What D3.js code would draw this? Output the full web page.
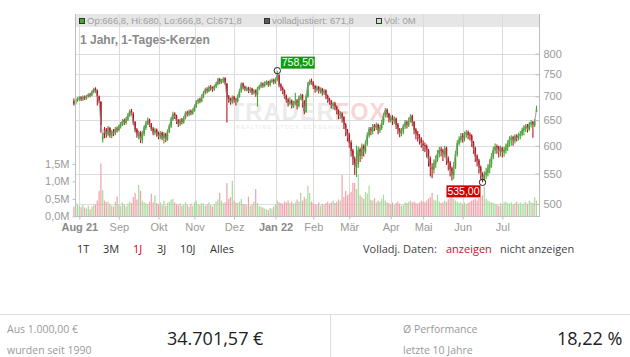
<!DOCTYPE html>
<html><head><meta charset="utf-8">
<script src="https://cdn.jsdelivr.net/npm/d3@7/dist/d3.min.js"></script>
<style>
body{margin:0;background:#fff;}
svg{display:block;}
</style></head><body>
<svg id="c" width="630" height="357"></svg>
<script>
// ---- data ----
const monthIdx = [3,25,47,67,89,112,133,153,176,194,216,238];
const monthLabels = ["Aug 21","Sep","Okt","Nov","Dez","Jan 22","Feb","Mär","Apr","Mai","Jun","Jul"];
const boldLabels = ["Aug 21","Jan 22"];
const priceTicks = [500,550,600,650,700,750,800];
const volTicks = [0,0.5,1.0,1.5];
const volTickLabels = ["0,0M","0,5M","1,0M","1,5M"];

const open = [
690,684,692,
694,698,693,699,696,700,705,702,709,717,713,700,688,612,632,630,621,634,619,628,623,633,
630,637,641,650,644,651,659,669,663,646,631,618,626,610,622,634,643,651,641,633,624,631,
623,617,625,614,622,611,627,637,651,663,659,649,641,651,645,654,666,661,669,663,
669,677,687,693,689,699,707,716,711,721,719,715,721,727,739,731,734,741,728,699,693,687,
699,693,689,699,711,729,721,715,719,711,717,707,713,703,717,721,729,723,729,733,725,733,737,
731,737,748,726,719,713,701,693,685,691,679,683,691,679,697,703,689,667,699,727,735,
731,723,714,721,711,717,707,713,701,693,689,679,685,677,669,659,663,656,641,629,
621,606,591,576,560,567,593,581,599,589,604,619,633,627,639,634,641,629,634,644,659,671,663,
649,656,647,653,641,631,623,627,637,646,639,649,659,646,631,623,617,613,
604,601,599,591,576,561,557,567,574,584,593,591,584,596,576,569,559,547,561,584,604,611,
619,613,621,626,621,619,606,596,581,573,561,549,541,547,551,559,567,579,591,599,597,589,
596,587,591,597,604,611,616,609,619,614,619,621,629,634,639,631,641,646,639,666.8];
const high = [
695,694,698,
700,700,702,702,703,707,708,713,719,720,715,702,690,624,636,634,638,636,630,632,636,637,
641,646,652,653,656,664,672,673,666,648,634,629,628,628,639,648,655,653,644,636,634,633,
627,628,627,626,624,631,642,656,667,666,661,652,653,654,658,668,669,672,672,674,
682,692,696,697,704,712,719,720,724,725,722,726,732,742,741,739,743,743,730,703,697,702,
701,697,704,716,731,731,724,722,721,720,719,716,715,721,726,732,731,734,736,735,738,740,740,
742,758.5,750,729,722,715,704,697,698,693,690,708,694,702,706,705,692,704,732,738,740,
734,726,724,723,720,719,716,715,704,697,692,688,688,680,672,668,666,658,644,632,
624,610,594,580,600,598,596,604,602,610,625,636,636,642,642,645,643,640,650,665,675,674,665,
660,660,657,655,644,634,634,642,650,649,655,662,661,648,634,628,622,616,
610,606,602,594,580,568,575,582,592,598,598,594,600,598,580,572,562,570,590,610,618,624,
624,627,630,629,625,622,609,598,584,576,564,552,554,560,566,575,586,598,604,602,600,600,
598,598,604,610,618,620,619,622,622,625,628,635,640,642,642,646,650,648,652,680];
const low = [
680,682,688,
690,690,690,692,693,697,698,700,706,708,680,685,625,606,614,615,618,615,614,618,620,625,
627,633,638,640,641,648,656,660,640,626,615,612,605,604,618,630,640,636,628,620,620,617,
612,612,610,604,607,609,624,634,648,652,642,636,638,641,643,651,657,658,660,661,
667,675,683,685,687,696,704,707,709,713,710,712,718,724,727,728,730,725,645,686,682,684,
686,680,686,697,708,715,711,711,707,708,703,704,699,678,714,718,719,720,725,721,722,730,727,
728,734,720,712,705,695,686,678,682,674,675,680,672,676,692,676,662,665,697,724,726,
716,708,710,706,706,702,703,694,686,682,674,672,670,662,652,652,645,632,618,608,
596,580,565,548,544,560,570,575,580,585,600,615,620,622,628,630,622,624,630,640,655,655,645,
645,640,642,632,622,616,618,622,632,633,636,645,638,622,612,608,602,596,
590,588,578,562,545,542,550,560,570,578,580,572,578,565,555,545,538,540,558,580,600,606,
606,608,615,612,610,598,585,570,562,550,540,535,537,540,545,550,560,575,585,585,578,580,
578,580,585,590,598,600,600,604,608,610,612,618,620,626,625,628,635,615,636,666.8];
const close = [
683,692,695,
697,694,698,696,700,704,702,710,716,712,700,690,640,618,628,622,634,620,626,624,632,630,
638,642,648,645,652,660,668,664,645,630,620,625,612,624,635,644,650,640,632,625,630,622,
618,624,615,622,612,628,638,652,662,658,648,642,650,646,655,665,662,668,664,670,
678,688,692,690,700,708,715,712,720,718,716,722,728,738,732,735,740,730,698,692,688,698,
692,690,700,712,728,720,716,718,712,716,708,712,704,718,722,728,724,730,732,726,734,736,732,
738,748,725,718,712,700,692,686,690,680,684,690,680,698,702,690,668,700,728,734,730,
722,715,720,712,716,708,712,700,692,688,680,684,676,668,660,662,655,640,628,620,
605,590,575,562,568,592,582,598,590,605,620,632,628,638,635,640,630,635,645,660,670,662,650,
655,648,652,640,630,624,628,638,645,640,650,658,645,630,622,618,612,605,
600,598,590,575,562,558,568,575,585,592,590,585,595,575,568,558,548,562,585,605,612,618,
614,622,625,620,618,605,595,580,572,560,548,542,548,552,560,568,580,592,598,596,590,595,
588,592,598,605,612,615,610,618,615,620,622,630,635,638,632,642,645,640,648,671.8];
const volume = [
0.28,0.42,0.33,
0.30,0.26,0.33,0.25,0.22,0.30,0.20,0.28,0.32,0.34,0.45,0.73,1.52,0.75,0.45,0.40,0.42,0.36,0.30,0.28,0.42,0.56,
0.35,0.30,0.40,0.33,0.28,0.36,0.42,0.38,0.55,0.67,0.48,0.90,0.73,0.45,0.40,0.38,0.35,0.42,0.64,0.40,0.60,0.38,
0.35,0.40,0.32,0.45,0.30,0.38,0.42,0.48,0.50,0.40,0.36,0.32,0.38,0.30,0.34,0.40,0.33,0.28,0.36,0.30,
0.40,0.45,0.35,0.32,0.38,0.36,0.30,0.34,0.40,0.32,0.28,0.35,0.42,0.48,0.67,0.45,0.38,0.40,0.95,0.50,0.55,1.02,
0.45,0.40,0.38,0.42,0.50,0.36,0.35,0.32,0.56,0.30,0.34,0.42,0.78,0.38,0.30,0.28,0.25,0.22,0.20,0.18,0.24,0.22,0.28,
0.35,0.45,0.40,0.38,0.36,0.42,0.40,0.45,0.38,0.42,0.36,0.40,0.48,0.42,0.67,0.45,0.55,0.50,0.87,0.67,0.42,
0.38,0.35,0.32,0.40,0.30,0.36,0.34,0.38,0.42,0.36,0.40,0.45,0.38,0.42,0.48,0.45,1.18,0.55,0.73,0.60,
0.65,0.70,0.96,0.96,0.78,1.18,0.60,0.55,0.50,0.70,0.65,0.88,0.48,0.45,0.52,0.40,0.45,0.42,0.50,0.62,0.45,0.40,0.38,
0.35,0.40,0.32,0.38,0.42,0.36,0.30,0.34,0.40,0.38,0.42,0.45,0.40,0.42,0.38,0.36,0.40,0.45,
0.42,0.40,0.45,0.50,0.55,0.67,0.48,0.45,0.62,0.42,0.38,0.40,0.45,0.42,0.48,0.52,0.55,0.50,0.45,0.42,0.38,0.40,
0.36,0.40,0.35,0.38,0.42,0.45,0.48,0.50,0.45,0.52,0.55,0.60,0.85,0.50,0.45,0.42,0.40,0.38,0.36,0.34,0.30,0.38,
0.35,0.40,0.42,0.38,0.36,0.40,0.34,0.38,0.42,0.36,0.40,0.35,0.38,0.42,0.36,0.45,0.40,0.38,0.55,0.45];

const highMark = {idx:113, value:758.5, label:"758,50"};
const lowMark = {idx:227, value:535.0, label:"535,00"};

// ---- drawing ----
const svg = d3.select("#c");
const N = close.length;
const x = d3.scaleLinear().domain([0, N-1]).range([73.9, 73.9 + (N-1)*1.8]);
const y = d3.scaleLog().domain([500, 800]).range([204, 53.6]);
const yv = d3.scaleLinear().domain([0, 1.5]).range([216.3, 163.9]);
const L = 75, R = 539, T = 14, B = 216.5;
const axisFont = "Liberation Sans, Arial, sans-serif";
const uiFont = "'Open Sans', sans-serif";

// legend bar
svg.append("rect").attr("x", L).attr("y", T).attr("width", R-L).attr("height", 13).attr("fill", "#e6e6e6");

// grid
svg.append("g").selectAll("line").data(monthIdx).join("line")
  .attr("x1", d => Math.round(x(d))+0.5).attr("x2", d => Math.round(x(d))+0.5)
  .attr("y1", T).attr("y2", B).attr("stroke", "#dcdcdc").attr("stroke-width", 1);
svg.append("g").selectAll("line").data(priceTicks).join("line")
  .attr("x1", L).attr("x2", R).attr("y1", d => Math.round(y(d))+0.5).attr("y2", d => Math.round(y(d))+0.5)
  .attr("stroke", "#dcdcdc").attr("stroke-width", 1);

// watermark
const wm = svg.append("text").attr("x", 230).attr("y", 120).attr("font-family", axisFont)
  .attr("font-weight", "bold").attr("font-size", 23).attr("letter-spacing", 1.5);
wm.append("tspan").attr("fill", "#ebebeb").text("TRADER");
wm.append("tspan").attr("fill", "#f7d6d6").text("FOX");
svg.append("text").attr("x", 236).attr("y", 129).attr("font-family", axisFont).attr("font-size", 5.5)
  .attr("letter-spacing", 1.2).attr("fill", "#e8e8e8").text("REALTIME STOCK SCREENING");

// volume
svg.append("g").selectAll("rect").data(volume).join("rect")
  .attr("x", (d, i) => x(i) - 0.6).attr("width", 1.2)
  .attr("y", d => yv(d)).attr("height", d => yv(0) - yv(d))
  .attr("fill", (d, i) => close[i] >= open[i] ? "#a6db9b" : "#f0a2ab");

// candles
const idx = d3.range(N);
const cg = svg.append("g");
cg.selectAll("line").data(idx).join("line")
  .attr("x1", i => x(i)).attr("x2", i => x(i))
  .attr("y1", i => y(high[i])).attr("y2", i => y(low[i]))
  .attr("stroke", i => close[i] >= open[i] ? "#3fab26" : "#c0131b").attr("stroke-width", 1.1);
cg.selectAll("rect").data(idx).join("rect")
  .attr("x", i => x(i) - 0.75).attr("width", 1.5)
  .attr("y", i => y(Math.max(open[i], close[i])))
  .attr("height", i => Math.max(0.8, Math.abs(y(open[i]) - y(close[i]))))
  .attr("fill", i => close[i] >= open[i] ? "#3fab26" : "#c0131b");

// adjusted close line
svg.append("path").datum(idx)
  .attr("d", d3.line().x(i => x(i)).y(i => y(close[i])))
  .attr("fill", "none").attr("stroke", "#8c8c8c").attr("stroke-width", 1.1).attr("stroke-opacity", 0.8);

// axes
function styleAxis(g) {
  g.selectAll(".domain").attr("stroke", "#bdbdbd");
  g.selectAll(".tick line").attr("stroke", "#bdbdbd");
  g.selectAll(".tick text").attr("fill", "#9a9a9a").attr("font-family", axisFont).attr("font-size", 11);
}
const ra = svg.append("g").attr("transform", `translate(${R+0.5},0)`)
  .call(d3.axisRight(y).tickValues(priceTicks).tickFormat(d3.format("d")).tickSize(-4).tickSizeOuter(0).tickPadding(4));
ra.select(".domain").remove();
styleAxis(ra);
const la = svg.append("g").attr("transform", `translate(${L+0.5},0)`)
  .call(d3.axisLeft(yv).tickValues(volTicks).tickFormat((d, i) => volTickLabels[i]).tickSize(3).tickSizeOuter(0).tickPadding(3));
la.select(".domain").remove();
styleAxis(la);
const ba = svg.append("g").attr("transform", `translate(0,${B})`)
  .call(d3.axisBottom(x).tickValues(monthIdx).tickFormat((d, i) => monthLabels[i]).tickSize(3).tickSizeOuter(0).tickPadding(4));
ba.select(".domain").remove();
styleAxis(ba);
ba.selectAll(".tick text").filter(d => boldLabels.includes(monthLabels[monthIdx.indexOf(d)]))
  .attr("font-weight", "bold").attr("fill", "#8a8a8a");
// frame lines
svg.append("line").attr("x1", L+0.5).attr("x2", L+0.5).attr("y1", T).attr("y2", B).attr("stroke", "#bdbdbd");
svg.append("line").attr("x1", R+0.5).attr("x2", R+0.5).attr("y1", T).attr("y2", B).attr("stroke", "#bdbdbd");
svg.append("line").attr("x1", L).attr("x2", R+1).attr("y1", B).attr("y2", B).attr("stroke", "#bdbdbd");

// legend
const lg = svg.append("g").attr("font-family", axisFont).attr("font-size", 9.5).attr("fill", "#a0a0a0");
const lastI = N-1;
const fmt = v => String(v).replace(".", ",");
const legendItems = [
  {x: 79, fill: "#3fab26", text: `Op:${fmt(open[lastI])}, Hi:${fmt(high[lastI])}, Lo:${fmt(low[lastI])}, Cl:${fmt(close[lastI])}`},
  {x: 264, fill: "#5a5a5a", text: `volladjustiert: ${fmt(close[lastI])}`},
  {x: 376, fill: "#c4e8bd", text: "Vol: 0M"}
];
legendItems.forEach(it => {
  lg.append("rect").attr("x", it.x+0.5).attr("y", 18.5).attr("width", 5).attr("height", 5)
    .attr("fill", it.fill).attr("stroke", "#333").attr("stroke-width", 1);
  lg.append("text").attr("x", it.x + 8).attr("y", 24).text(it.text);
});
svg.append("text").attr("x", 80).attr("y", 44).attr("font-family", axisFont).attr("font-weight", "bold")
  .attr("font-size", 12).attr("fill", "#8a8a8a").text("1 Jahr, 1-Tages-Kerzen");

// high / low markers
function marker(m, color, above) {
  const cx = x(m.idx), cy = y(m.value);
  svg.append("circle").attr("cx", cx).attr("cy", cy).attr("r", 3.2)
    .attr("fill", "none").attr("stroke", "#222").attr("stroke-width", 1);
  const w = 34, h = 12;
  const bx = above ? cx + 3.5 : cx - 2 - w;
  const by = above ? cy - 14 : cy + 3;
  svg.append("rect").attr("x", bx).attr("y", by).attr("width", w).attr("height", h).attr("fill", color);
  svg.append("text").attr("x", bx + w/2).attr("y", by + 9.5).attr("text-anchor", "middle")
    .attr("font-family", axisFont).attr("font-size", 10.5).attr("fill", "#fff").text(m.label);
}
marker(highMark, "#119a11", true);
marker(lowMark, "#cc0000", false);

// controls
const ctrl = [{t:"1T",x:77,c:"#333"},{t:"3M",x:103,c:"#333"},{t:"1J",x:133,c:"#d0021b"},{t:"3J",x:157,c:"#333"},{t:"10J",x:180,c:"#333"},{t:"Alles",x:210,c:"#333"}];
svg.append("g").selectAll("text").data(ctrl).join("text")
  .attr("x", d => d.x).attr("y", 253).attr("font-family", uiFont).attr("font-size", 11)
  .attr("fill", d => d.c).text(d => d.t);
svg.append("text").attr("x", 363).attr("y", 253).attr("font-family", uiFont).attr("font-size", 11).attr("fill", "#444").text("Volladj. Daten:");
svg.append("text").attr("x", 446).attr("y", 253).attr("font-family", uiFont).attr("font-size", 11).attr("fill", "#c8102e").text("anzeigen");
svg.append("text").attr("x", 500).attr("y", 253).attr("font-family", uiFont).attr("font-size", 11).attr("fill", "#444").text("nicht anzeigen");

// bottom panel
svg.append("line").attr("x1", 0).attr("x2", 630).attr("y1", 314.5).attr("y2", 314.5).attr("stroke", "#dddddd");
svg.append("line").attr("x1", 330.5).attr("x2", 330.5).attr("y1", 315).attr("y2", 357).attr("stroke", "#dddddd");
const small = [{x:7,y:333,t:"Aus 1.000,00 €"},{x:7,y:354,t:"wurden seit 1990"},{x:403,y:333,t:"Ø Performance"},{x:403,y:354,t:"letzte 10 Jahre"}];
svg.append("g").selectAll("text").data(small).join("text")
  .attr("x", d => d.x).attr("y", d => d.y).attr("font-family", uiFont).attr("font-size", 10.5)
  .attr("fill", "#999").text(d => d.t);
svg.append("text").attr("x", 167).attr("y", 345).attr("font-family", uiFont).attr("font-size", 18).attr("fill", "#222").text("34.701,57 €");
svg.append("text").attr("x", 557).attr("y", 345).attr("font-family", uiFont).attr("font-size", 18).attr("fill", "#222").text("18,22 %");
</script>
</body></html>
